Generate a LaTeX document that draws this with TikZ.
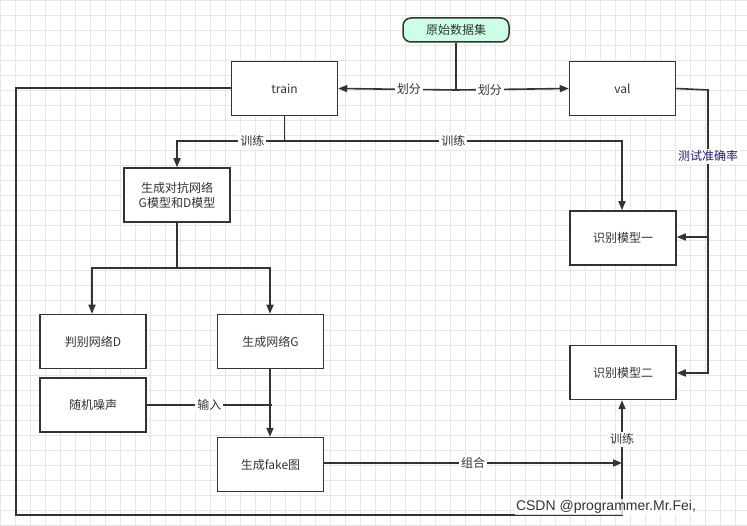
\documentclass[tikz,border=0pt]{standalone}
\usepackage{fontspec}
\setmainfont{Liberation Sans}
\newfontfamily\cjk{Noto Sans CJK SC}
\usetikzlibrary{arrows.meta}
\definecolor{ln}{HTML}{333333}
\definecolor{gridc}{HTML}{E6E6E6}
\begin{document}
\begin{tikzpicture}[x=1pt,y=-1pt,
  box/.style={draw=ln,line width=1.5pt,fill=white,minimum width=106pt,minimum height=54pt,font=\cjk\fontsize{12}{15}\selectfont,text=ln,align=center},
  c/.style={draw=ln,line width=1.6pt},
  a/.style={c,-{Triangle[length=9pt,width=7pt]}},
  lab/.style={fill=white,font=\cjk\fontsize{12}{14}\selectfont,text=ln,inner sep=2pt}]
\useasboundingbox (0,0) rectangle (747,526);
\fill[white] (0,0) rectangle (747,526);
\draw[gridc,line width=0.5pt,step=15pt] (0,0) grid (747,526);
\node[box,minimum width=106pt,minimum height=24pt,rounded corners=8pt,fill={rgb,255:red,204;green,255;blue,230}] (src) at (456,30) {原始数据集};
\node[box] (train) at (284.5,88.5) {train};
\node[box] (val) at (622.5,88.5) {val};
\node[box] (gan) at (177,195) {生成对抗网络\\G模型和D模型};
\node[box] (m1) at (623,238) {识别模型一};
\node[box] (dd) at (93,341.5) {判别网络D};
\node[box] (gg) at (270.5,341.5) {生成网络G};
\node[box] (noise) at (93,405) {随机噪声};
\node[box] (fake) at (270.5,464.5) {生成fake图};
\node[box] (m2) at (623,372.5) {识别模型二};
\coordinate (s) at (456,90);
\draw[c] (src) -- (s);
\draw[a] (s) -- node[lab,pos=0.4]{划分} (train.east);
\draw[a] (s) -- node[lab,pos=0.3]{划分} (val.west);
\coordinate (t1) at (284.5,141);
\draw[c] (train.south) -- (t1);
\draw[a] (t1) -- node[lab,pos=0.3]{训练} (177,141) -- (gan.north);
\draw[a] (t1) -- node[lab,pos=0.5]{训练} (622,141) -- (m1.north -| 622,0);
\coordinate (v1) at (708,90);
\draw[c] (val.east) -- (v1) -- node[lab,text={rgb,255:red,30;green,30;blue,120},pos=0.45]{测试准确率} (708,237);
\draw[a] (708,237) -- (m1.east |- 0,237);
\draw[a] (708,237) -- (708,373) -- (m2.east |- 0,373);
\coordinate (g1) at (177,268);
\draw[c] (gan.south) -- (g1);
\draw[a] (g1) -- (92,268) -- (dd.north -| 92,0);
\draw[a] (g1) -- (270,268) -- (gg.north -| 270,0);
\draw[a] (gg.south -| 270,0) -- (fake.north -| 270,0);
\draw[c] (noise.east |- 0,405) -- node[lab,pos=0.5]{输入} (272,405);
\draw[a] (fake.east |- 0,463) -- node[lab,pos=0.5]{组合} (622,463);
\draw[a] (train.west |- 0,88) -- (16,88) -- (16,515) -- (622,515) -- node[lab,pos=0.66]{训练} (m2.south -| 622,0);
\node[font=\fontsize{14}{16}\selectfont,text=ln,fill=white,fill opacity=0.8,text opacity=1,inner sep=1pt] (wm) at (606,507) {CSDN @programmer.Mr.Fei,};
\end{tikzpicture}
\end{document}
